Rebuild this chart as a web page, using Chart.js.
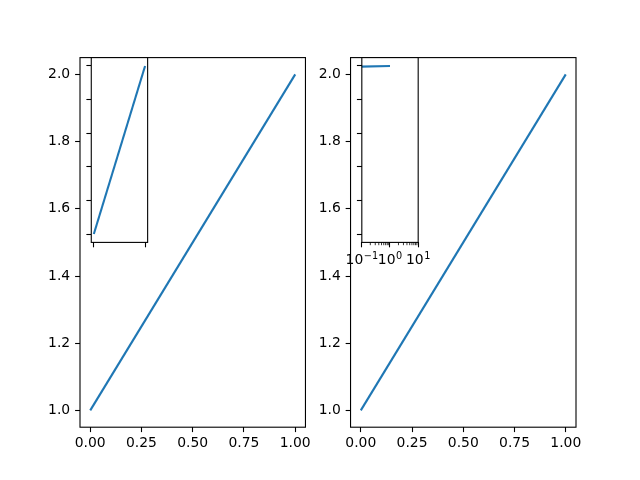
<!DOCTYPE html>
<html lang="en">
<head>
  <meta charset="UTF-8" />
  <title>Inset axes</title>
  <script src="https://cdn.jsdelivr.net/npm/chart.js"></script>
  <style>
    body { margin: 0; background: #fff; }
    #fig { position: relative; width: 640px; height: 480px; background: #fff; }
    #fig canvas { position: absolute; left: 0; top: 0; }
  </style>
</head>
<body>
  <div id="fig">
    <canvas id="mainLeft" width="640" height="480"></canvas>
    <canvas id="mainRight" width="640" height="480"></canvas>
    <canvas id="insetLeft" width="640" height="480"></canvas>
    <canvas id="insetRight" width="640" height="480"></canvas>
  </div>

  <script>
    // data
    const xValues = [0, 1];
    const yValues = [1, 2];
    const mainXTicks = [0, 0.25, 0.5, 0.75, 1.0];
    const yTicks = [1.0, 1.2, 1.4, 1.6, 1.8, 2.0];
    const insetXTicks = [0, 1];
    const logTicks = [0.1, 1, 10];
    const logTickBase = "10";
    const logTickExps = ["\u22121", "0", "1"];
    const logMinorTicks = [0.2, 0.3, 0.4, 0.5, 0.6, 0.7, 0.8, 0.9, 2, 3, 4, 5, 6, 7, 8, 9];
    // on a log axis matplotlib clips x <= 0 to a tiny positive value instead of dropping it
    const logClipX = 1e-300;

    const FIG_W = 640, FIG_H = 480;
    const AXIS_W = 40, AXIS_H = 30;
    const BLUE = "#1f77b4";
    const FONT = { family: "DejaVu Sans", size: 13.9 };

    Chart.defaults.color = "#000";
    Chart.defaults.font.family = FONT.family;
    Chart.defaults.font.size = FONT.size;

    // subplot boxes like plt.subplots(1, 2) in a 640x480 figure
    const sub = { left: 0.125, right: 0.9, bottom: 0.11, top: 0.88, wspace: 0.2 };
    const axW = (sub.right - sub.left) * FIG_W / (2 + sub.wspace);
    const axH = (sub.top - sub.bottom) * FIG_H;

    function axesBox(i) {
      return { x: sub.left * FIG_W + i * axW * (1 + sub.wspace), y: (1 - sub.top) * FIG_H, w: axW, h: axH };
    }
    function insetBox(b) {
      // ax.inset_axes([0.05, 0.5, 0.25, 0.5])
      return { x: b.x + 0.05 * b.w, y: b.y, w: 0.25 * b.w, h: 0.5 * b.h };
    }

    const pad = (lo, hi) => [lo - 0.05 * (hi - lo), hi + 0.05 * (hi - lo)];
    const [xMin, xMax] = pad(Math.min(...xValues), Math.max(...xValues));
    const [yMin, yMax] = pad(Math.min(...yValues), Math.max(...yValues));

    const framePlugin = {
      id: "frame",
      beforeDraw(chart, args, opts) {
        if (!opts.fill) return;
        const { ctx, chartArea: a } = chart;
        ctx.save();
        ctx.fillStyle = "#fff";
        ctx.fillRect(a.left, a.top, a.right - a.left, a.bottom - a.top);
        ctx.restore();
      },
      afterDraw(chart) {
        const { ctx, chartArea: a } = chart;
        ctx.save();
        ctx.strokeStyle = "#000";
        ctx.lineWidth = 1.1;
        ctx.strokeRect(a.left, a.top, a.right - a.left, a.bottom - a.top);
        ctx.restore();
      }
    };

    // minor ticks and 10^n labels (superscript drawn smaller and raised)
    const logAxisPlugin = {
      id: "logAxis",
      afterDraw(chart) {
        const { ctx, chartArea: a } = chart;
        const xs = chart.scales.x;
        ctx.save();
        ctx.strokeStyle = "#000";
        ctx.lineWidth = 0.8;
        logMinorTicks.forEach(v => {
          const px = xs.getPixelForValue(v);
          ctx.beginPath();
          ctx.moveTo(px, a.bottom);
          ctx.lineTo(px, a.bottom + 2.8);
          ctx.stroke();
        });

        const baseFont = FONT.size + "px '" + FONT.family + "'";
        const supFont = (FONT.size * 0.7).toFixed(2) + "px '" + FONT.family + "'";
        ctx.fillStyle = "#000";
        ctx.textBaseline = "alphabetic";
        ctx.textAlign = "left";
        logTicks.forEach((v, i) => {
          const px = xs.getPixelForValue(v);
          ctx.font = baseFont;
          const wb = ctx.measureText(logTickBase).width;
          ctx.font = supFont;
          const we = ctx.measureText(logTickExps[i]).width;
          const x0 = px - (wb + we + 0.5) / 2;
          ctx.font = baseFont;
          ctx.fillText(logTickBase, x0, a.bottom + 21.6);
          ctx.font = supFont;
          ctx.fillText(logTickExps[i], x0 + wb + 0.5, a.bottom + 16.9);
        });
        ctx.restore();
      }
    };

    function axis(dir, extra, ticks, fmt) {
      return Object.assign({
        type: "linear",
        position: dir === "x" ? "bottom" : "left",
        afterBuildTicks: s => { s.ticks = ticks.map(v => ({ value: v })); },
        afterFit: s => { if (dir === "x") s.height = AXIS_H; else s.width = AXIS_W; },
        grid: { drawOnChartArea: false, drawTicks: true, tickLength: 4.9, tickWidth: 1.1, tickColor: "#000" },
        border: { display: false },
        ticks: { callback: fmt, padding: dir === "x" ? 3 : 4.9, autoSkip: false, maxRotation: 0, minRotation: 0, color: "#000", font: FONT }
      }, extra);
    }

    function makeChart(id, box, xAxis, yAxis, xs, fill, plugins) {
      return new Chart(document.getElementById(id), {
        type: "line",
        data: {
          datasets: [{
            data: xs.map((x, i) => ({ x: x, y: yValues[i] })),
            borderColor: BLUE,
            borderWidth: 2.1,
            pointRadius: 0,
            tension: 0,
            fill: false,
            clip: 0
          }]
        },
        options: {
          responsive: false,
          animation: false,
          layout: {
            padding: {
              left: box.x - AXIS_W,
              top: box.y,
              right: FIG_W - box.x - box.w,
              bottom: FIG_H - box.y - box.h - AXIS_H
            }
          },
          plugins: { legend: { display: false }, tooltip: { enabled: false }, frame: { fill: fill } },
          scales: { x: xAxis, y: yAxis }
        },
        plugins: [framePlugin].concat(plugins || [])
      });
    }

    const fmt2 = v => v.toFixed(2);
    const fmt1 = v => v.toFixed(1);
    const none = () => "";

    const boxL = axesBox(0), boxR = axesBox(1);

    makeChart("mainLeft", boxL,
      axis("x", { min: xMin, max: xMax }, mainXTicks, fmt2),
      axis("y", { min: yMin, max: yMax }, yTicks, fmt1), xValues, false);

    makeChart("mainRight", boxR,
      axis("x", { min: xMin, max: xMax }, mainXTicks, fmt2),
      axis("y", { min: yMin, max: yMax }, yTicks, fmt1), xValues, false);

    makeChart("insetLeft", insetBox(boxL),
      axis("x", { min: xMin, max: xMax }, insetXTicks, none),
      axis("y", { min: yMin, max: yMax }, yTicks, none), xValues, true);

    makeChart("insetRight", insetBox(boxR),
      axis("x", { type: "logarithmic", min: 0.1, max: 10 }, logTicks, none),
      axis("y", { min: yMin, max: yMax }, yTicks, none),
      xValues.map(x => x > 0 ? x : logClipX), true, [logAxisPlugin]);
  </script>
</body>
</html>
